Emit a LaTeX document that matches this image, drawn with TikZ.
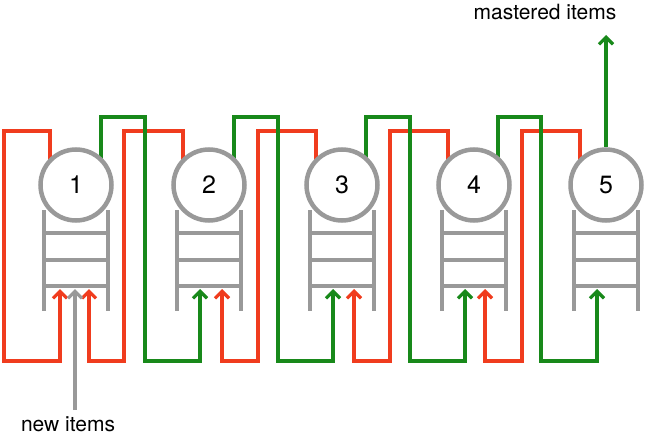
\documentclass[tikz,border=0pt]{standalone}
\usepackage{fontspec}
\setmainfont{TeX Gyre Heros}
\usetikzlibrary{arrows.meta}
\definecolor{rd}{HTML}{F03C1E}
\definecolor{gn}{HTML}{18891A}
\definecolor{gy}{HTML}{999999}
\begin{document}
\begin{tikzpicture}[x=1pt,y=-1pt,
  rline/.style={draw=rd,line width=3.2pt,-{Straight Barb[length=7pt,width=14pt]}},
  gline/.style={draw=gn,line width=3.2pt,-{Straight Barb[length=7pt,width=14pt]}},
  stage/.style={circle,draw=gy,fill=white,line width=4.5pt,minimum size=71pt,inner sep=0pt,font=\fontsize{25}{25}\selectfont},
  rail/.style={draw=gy,line width=4.5pt},
  lbl/.style={font=\fontsize{21}{21}\selectfont,inner sep=0pt}]
\useasboundingbox (0,0) rectangle (649,436);
% queues
\foreach \i/\c in {1/76,2/209,3/342,4/474,5/606}{
  \draw[rail] (\c-32,210) -- (\c-32,311) (\c+32,210) -- (\c+32,311);
  \draw[rail] (\c-32,233) -- (\c+32,233) (\c-32,260) -- (\c+32,260) (\c-32,286) -- (\c+32,286);
  \coordinate (q\i) at (\c,289);
}
% red loops
\draw[rline] (50,185) -- (50,131) -- (4,131) -- (4,361) -- (60,361) -- (60,289);
\draw[rline] (183,185) -- (183,131) -- (124,131) -- (124,361) -- (89,361) -- (89,289);
\draw[rline] (316,185) -- (316,131) -- (258,131) -- (258,361) -- (222,361) -- (222,289);
\draw[rline] (448,185) -- (448,131) -- (390,131) -- (390,361) -- (354,361) -- (354,289);
\draw[rline] (580,185) -- (580,131) -- (522,131) -- (522,361) -- (485,361) -- (485,289);
% green loops
\draw[gline] (101,185) -- (101,117) -- (145,117) -- (145,361) -- (200,361) -- (200,289);
\draw[gline] (234,185) -- (234,117) -- (278,117) -- (278,361) -- (333,361) -- (333,289);
\draw[gline] (366,185) -- (366,117) -- (410,117) -- (410,361) -- (465,361) -- (465,289);
\draw[gline] (498,185) -- (498,117) -- (541,117) -- (541,361) -- (597,361) -- (597,289);
% stages
\node[stage] (s1) at (76,185) {1};
\node[stage] (s2) at (209,185) {2};
\node[stage] (s3) at (342,185) {3};
\node[stage] (s4) at (474,185) {4};
\node[stage] (s5) at (606,185) {5};
\node[lbl] (mi) at (545,12) {mastered items};
\node[lbl] (ni) at (68,424) {new items};
\coordinate (out) at (606,35);
\draw[gline] (s5.north) -- (out);
\draw[draw=gy,line width=3.2pt,-{Straight Barb[length=7pt,width=14pt]}] (75,410) -- (75,289);
\end{tikzpicture}
\end{document}
